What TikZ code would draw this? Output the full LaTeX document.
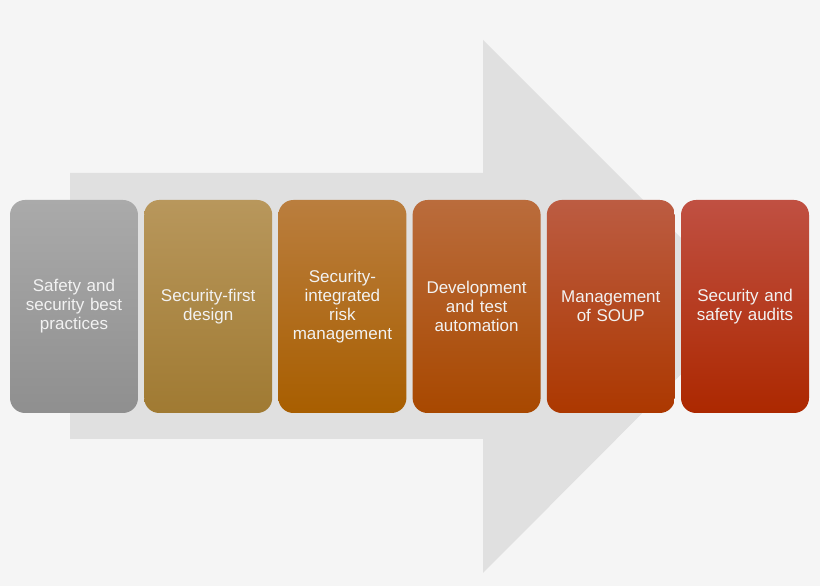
\documentclass[tikz,border=0pt]{standalone}
\usepackage{fontspec}
\setmainfont{Liberation Sans}
\usetikzlibrary{positioning}

\definecolor{backgray}{HTML}{F5F5F5}
\definecolor{arrowgray}{HTML}{E0E0E0}

\begin{document}
\begin{tikzpicture}[x=1pt, y=1pt,
    stage/.style={rounded corners=15pt, minimum width=128pt, minimum height=213pt,
      text width=124pt, align=center, inner sep=0pt, text=white!95!black,
      font=\fontsize{17}{19}\selectfont},
    node distance=5.8pt]
    % draw background
    \fill[backgray] (0,0) rectangle (820,586);

    % draw big arrow
    \fill[arrowgray] (70,413) -- (483,413) -- (483,546) -- (749,280)
             -- (483,13) -- (483,147) -- (70,147) -- cycle;

    % draw stages
    \node[stage, top color={rgb,255:red,170;green,170;blue,170}, bottom color={rgb,255:red,143;green,143;blue,143}]
      (practices) at (74,279.5) {Safety and\\security best\\practices};
    \node[stage, right=of practices, top color={rgb,255:red,184;green,151;blue,92}, bottom color={rgb,255:red,160;green,122;blue,50}]
      (design) {Security-first\\design};
    \node[stage, right=of design, top color={rgb,255:red,186;green,126;blue,62}, bottom color={rgb,255:red,168;green,94;blue,0}]
      (risk) {Security-\\integrated\\risk\\management};
    \node[stage, right=of risk, top color={rgb,255:red,186;green,108;blue,60}, bottom color={rgb,255:red,168;green,72;blue,0}]
      (automation) {Development\\and test\\automation};
    \node[stage, right=of automation, top color={rgb,255:red,188;green,92;blue,66}, bottom color={rgb,255:red,172;green,56;blue,0}]
      (soup) {Management\\of SOUP};
    \node[stage, right=of soup, top color={rgb,255:red,192;green,80;blue,66}, bottom color={rgb,255:red,172;green,40;blue,0}]
      (audits) {Security and\\safety audits};
\end{tikzpicture}
\end{document}
